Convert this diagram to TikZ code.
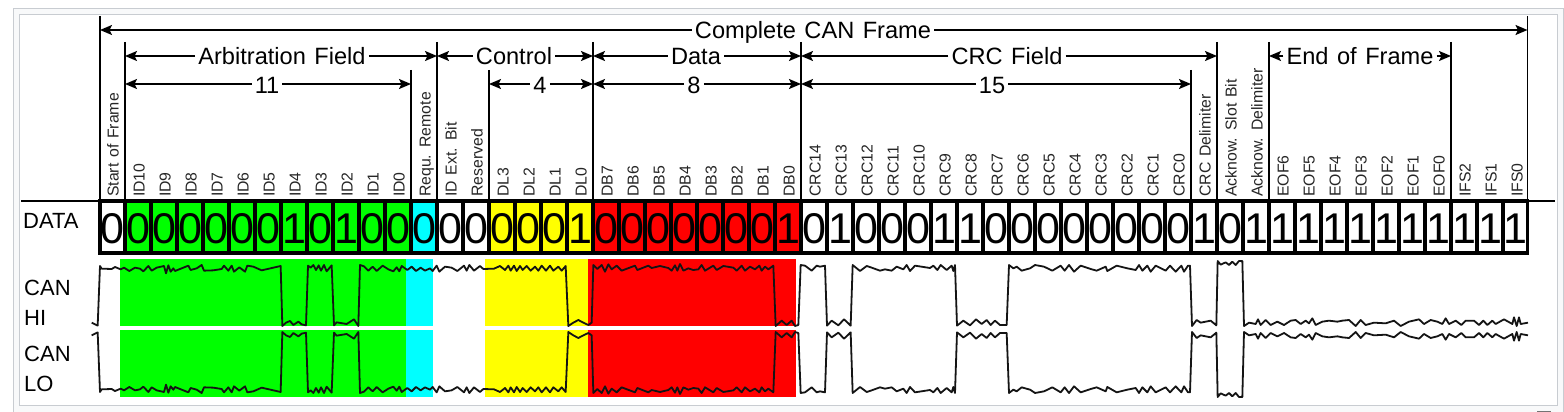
\documentclass[tikz,border=0pt]{standalone}
\usepackage{fontspec}
\setmainfont[WordSpace=1.3]{Liberation Sans}
\usetikzlibrary{arrows.meta}
\definecolor{framefill}{HTML}{F8F9FA}
\definecolor{frameline}{HTML}{C8CCD1}
\definecolor{cgreen}{HTML}{00FF00}
\definecolor{ccyan}{HTML}{00FFFF}
\definecolor{cyell}{HTML}{FFFF00}
\definecolor{cred}{HTML}{FF0000}
\tikzset{
  dimline/.style={line width=1.8pt,-{Stealth[length=12pt,width=10pt,inset=2.5pt]}},
  framebar/.style={line width=1.9pt},
  biglabel/.style={inner sep=3pt,anchor=base,font=\fontsize{23.6}{28}\selectfont},
  sidelabel/.style={inner sep=0pt,anchor=base west,font=\fontsize{22}{26}\selectfont},
  bitname/.style={inner sep=0pt,anchor=base west,rotate=90,text=black!85,font=\fontsize{15.8}{19}\selectfont},
  bitcell/.style={draw=black,line width=3.4pt,minimum height=52pt,inner sep=0pt,
     text height=32pt,text depth=0pt,font=\fontsize{43}{46}\selectfont},
  wavepath/.style={line width=1.8pt,line join=round,draw=black!92},
}
\newcommand{\bx}[1]{min(max(99+26*(#1),100),1527.5)}
% Trace points as (X,Y): x = offset + X/3, HI y = 200 + Y/3; LO is the mirror image
\newcommand{\listA}{275/368,293/377,300/198,305/206,335/207,345/201,362/208,372/203,388/213,405/203,420/206,430/214,445/198,455/212,470/203,492/198,498/220,505/196,512/215,520/205,525/213,550/203,565/197,572/210,590/205,605/195,612/212,640/211,665/207,672/197,685/212,695/197,702/215,718/202,735/215,742/197,760/200,785/211,842/198,847/378,858/368,870/363,880/375,895/365,905/373,918/376,924/197,932/203,940/195,948/210,956/196,963/212,972/195,980/214,995/196,1002/376,1010/367,1040/372,1062/358,1075/378,1080/195,1092/199,1105/212,1118/200,1130/213,1148/197,1165/208,1180/214,1190/202,1198/214,1205/198,1222/210,1235/200,1248/213,1262/203,1275/212,1290/205,1298/213,1310/197,1318/215,1335/200,1355/203,1372/213,1392/197,1400/212,1408/195,1422/212,1440/198,1450/207,1482/206,1500/198,1515/210,1525/197,1532/212,1542/197,1550/213}
\newcommand{\listB}{0/198,8/210,20/198,32/212,45/200,55/212,65/197,78/212,90/197,100/212,115/200,125/212,137/198,145/378,160/368,175/360,190/368,205/375,215/368,220/195,232/207,245/195,255/215,265/193,275/208,290/197,305/212,345/197,352/210,385/197,395/204,420/198,445/204,455/212,465/196,472/212,480/192,490/212,505/205,520/210,535/208,545/195,555/212,580/197,590/210,610/198,640/203,650/212,665/197,675/212,690/200,705/208,718/197,725/212,735/200,745/208,760/197,767/378,785/362,800/375,815/362,825/378,835/375,842/195,855/197,875/212,890/197,900/200,915/197,921/377,935/362,955/376,972/358,985/370,992/377,998/195,1020/213,1040/198,1055/203,1080/212,1095/208,1115/212,1130/200,1150/208,1160/195,1170/213,1185/197,1230/204,1240/197,1252/210,1262/195,1280/210,1295/197,1300/213,1305/195,1311/377,1330/362,1350/376,1368/358,1385/372,1400/360,1412/375,1425/362,1440/375,1460/375,1467/195,1480/205,1490/200,1505/212,1530/205,1545/195}
\newcommand{\listC}{0/200,25/212,50/197,62/212,75/195,90/215,110/197,140/207,158/212,185/200,190/213,218/197,250/205,275/210,285/195,295/212,310/197,320/215,335/197,365/212,378/197,395/215,412/197,420/215,432/197,438/197,444/378,458/360,470/368,500/362,517/376,521/183,530/194,545/187,555/195,565/185,575/195,585/183,595/183,600/378,615/368,635/372,642/358,650/375,665/360,680/375,700/365,720/375,740/362,755/360,770/372,785/362,795/370,805/355,815/375,835/365,855/362,880/365,895/362,915/360,935/378,950/360,965/375,990/368,1025/370,1050/362,1070/378,1095/365,1125/358,1140/372,1160/360,1180/365,1195/372,1205/355,1215/372,1235/362,1252/375,1265/362,1290/362,1305/375,1318/362,1330/375,1345/362,1355/372,1380/358,1405/372,1410/352,1418/378,1425/352,1430/372,1452/368}
% #1 = sign: -1 HI, +1 LO
\newcommand{\tracewave}[1]{%
  \coordinate (wstart#1) at ({275/3},{329+(#1)*(129-368/3)});
  \draw[wavepath] (wstart#1)
    \foreach \X/\Y in \listA { -- ({\X/3},{329+(#1)*(129-\Y/3)}) }
    \foreach \X/\Y in \listB { -- ({520+\X/3},{329+(#1)*(129-\Y/3)}) }
    \foreach \X/\Y in \listC { -- ({1044+\X/3},{329+(#1)*(129-\Y/3)}) };
}
\begin{document}
\begin{tikzpicture}[x=1pt,y=-1pt]
\useasboundingbox (0,0) rectangle (1564,412);
\fill[white] (0,0) rectangle (1564,412);
% page frame
\filldraw[fill=framefill,draw=frameline,line width=1pt] (13.5,8.5) rectangle (1563.5,420);
\filldraw[fill=white,draw=frameline,line width=1pt] (19.5,14.5) rectangle (1557.5,405);
\fill[black!55] (1537,411) rectangle (1551,412);
% coloured bands
\foreach \ya/\yb in {258.7/326,330/397.3}{
  \fill[cgreen] (120.3,\ya) rectangle (406,\yb);
  \fill[ccyan] (406,\ya) rectangle (432.7,\yb);
  \fill[cyell] (485,\ya) rectangle (588.3,\yb);
  \fill[cred] (588.3,\ya) rectangle (796,\yb);
}
% bit cells
\coordinate (ruleL) at (21,200.7);
\coordinate (ruleR) at (1555,200.7);
\draw[line width=2pt] (ruleL) -- (ruleR);
\foreach \i/\b/\c in {0/0/white,1/0/cgreen,2/0/cgreen,3/0/cgreen,4/0/cgreen,5/0/cgreen,6/0/cgreen,7/1/cgreen,8/0/cgreen,9/1/cgreen,10/0/cgreen,11/0/cgreen,12/0/ccyan,13/0/white,14/0/white,15/0/cyell,16/0/cyell,17/0/cyell,18/1/cyell,19/0/cred,20/0/cred,21/0/cred,22/0/cred,23/0/cred,24/0/cred,25/0/cred,26/1/cred,27/0/white,28/1/white,29/0/white,30/0/white,31/0/white,32/1/white,33/1/white,34/0/white,35/0/white,36/0/white,37/0/white,38/0/white,39/0/white,40/0/white,41/0/white,42/1/white,43/0/white,44/1/white,45/1/white,46/1/white,47/1/white,48/1/white,49/1/white,50/1/white,51/1/white,52/1/white,53/1/white,54/1/white}{
  \pgfmathsetmacro{\xa}{\bx{\i}}
  \pgfmathsetmacro{\xb}{\bx{\i+1}}
  \node[bitcell,fill=\c,minimum width={(\xb-\xa)*1pt}] (cell\i) at ({(\xa+\xb)/2},227) {\b};
}
% bit names
\foreach \i/\t in {0/Start of Frame,1/ID10,2/ID9,3/ID8,4/ID7,5/ID6,6/ID5,7/ID4,8/ID3,9/ID2,10/ID1,11/ID0,12/Requ. Remote,13/ID Ext. Bit,14/Reserved,15/DL3,16/DL2,17/DL1,18/DL0,19/DB7,20/DB6,21/DB5,22/DB4,23/DB3,24/DB2,25/DB1,26/DB0,27/CRC14,28/CRC13,29/CRC12,30/CRC11,31/CRC10,32/CRC9,33/CRC8,34/CRC7,35/CRC6,36/CRC5,37/CRC4,38/CRC3,39/CRC2,40/CRC1,41/CRC0,42/CRC Delimiter,43/Acknow. Slot Bit,44/Acknow. Delimiter,45/EOF6,46/EOF5,47/EOF4,48/EOF3,49/EOF2,50/EOF1,51/EOF0,52/IFS2,53/IFS1,54/IFS0}{
  \node[bitname] (name\i) at ({99+26*\i+19.5},197) {\t};
}
% vertical bars
\foreach \i/\top in {0/16,1/42,12/70,13/42,15/70,19/42,27/42,42/70,43/42,45/42,52/42,55/16}{
  \coordinate (barT\i) at ({\bx{\i}},\top);
  \coordinate (barB\i) at ({\bx{\i}},201);
  \draw[framebar] (barT\i) -- (barB\i);
}
% dimension rows: name/text/label x/baseline/line y/left bar/right bar
\foreach \n/\t/\x/\b/\y/\l/\r in {
  full/Complete CAN Frame/813/39/30/0/55,
  arb/Arbitration Field/282/65/56/1/13,
  ctl/Control/514/65/56/13/19,
  dat/Data/696/65/56/19/27,
  crc/CRC Field/1007/65/56/27/43,
  eof/End of Frame/1360/65/56/45/52,
  nid/11/267/94/84/1/12,
  ndl/4/540/94/84/15/19,
  ndb/8/694/94/84/19/27,
  ncr/15/992/94/84/27/42}{
  \node[biglabel] (lab\n) at (\x,\b) {\t};
  \coordinate (endL\n) at ({\bx{\l}},\y);
  \coordinate (endR\n) at ({\bx{\r}},\y);
  \draw[dimline] (lab\n.west |- endL\n) -- (endL\n);
  \draw[dimline] (lab\n.east |- endR\n) -- (endR\n);
}
% side labels
\node[sidelabel] (tdata) at (23,228) {DATA};
\node[sidelabel] (tcan1) at (24,295) {CAN};
\node[sidelabel] (thi) at (24,325) {HI};
\node[sidelabel] (tcan2) at (24,361) {CAN};
\node[sidelabel] (tlo) at (24,391) {LO};
% waveforms
\tracewave{-1}
\tracewave{1}
\end{tikzpicture}
\end{document}
